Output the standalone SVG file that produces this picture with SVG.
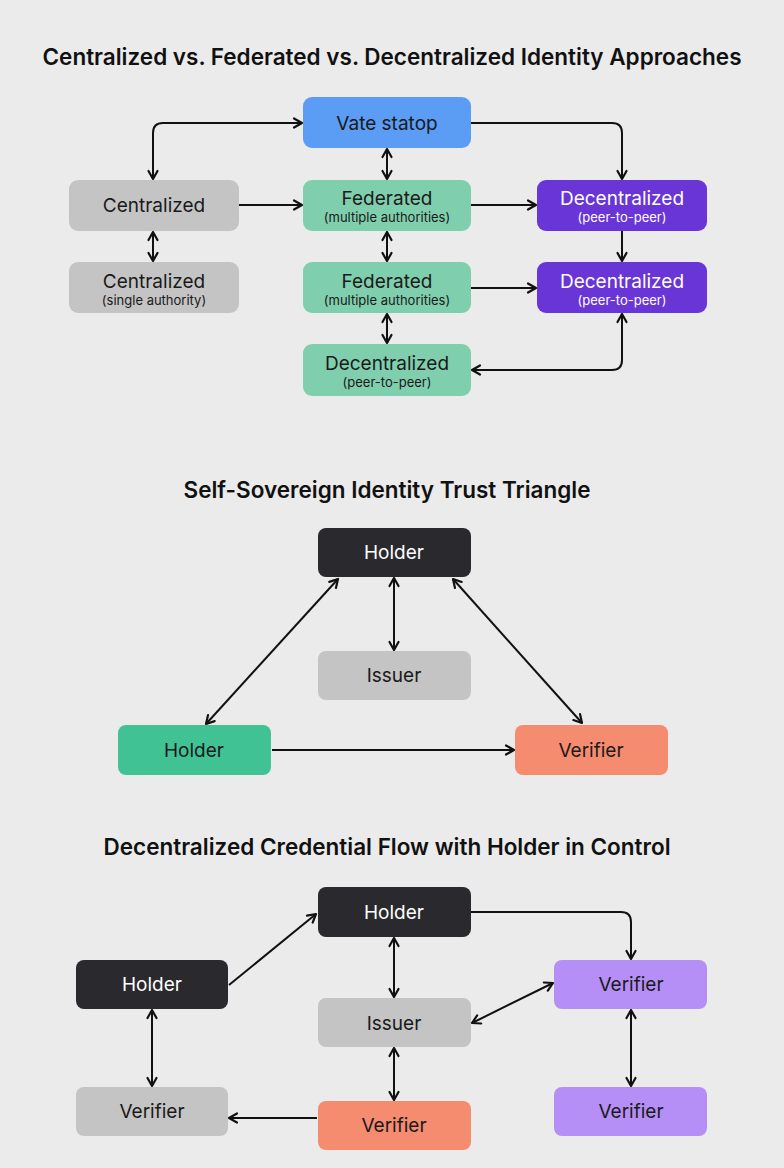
<svg xmlns="http://www.w3.org/2000/svg" width="784" height="1168" viewBox="0 0 784 1168">
<defs>
<marker id="ah" viewBox="0 0 12 12" refX="10" refY="6" markerWidth="12" markerHeight="12" markerUnits="userSpaceOnUse" orient="auto-start-reverse">
<path d="M2,1.5 L10,6 L2,10.5" fill="none" stroke="#111" stroke-width="2.2" stroke-linecap="round" stroke-linejoin="round"/>
</marker>
<style>
.title{font-family:Inter,"Liberation Sans",sans-serif;font-size:22.5px;font-weight:600;fill:#111;text-anchor:middle}
.t{font-family:Inter,"Liberation Sans",sans-serif;font-size:19px;fill:#1a1a1a;text-anchor:middle}
.s{font-family:Inter,"Liberation Sans",sans-serif;font-size:13px;fill:#1a1a1a;text-anchor:middle}
.w{fill:#ffffff}
.c line,.c path{fill:none;stroke:#111;stroke-width:2}
.gray{fill:#c4c4c4}
.blue{fill:#5b9cf4}
.green{fill:#7fcfae}
.purple{fill:#6a35d6}
.dark{fill:#2a292d}
.teal{fill:#40c295}
.orange{fill:#f58b6f}
.lpurple{fill:#b58ff5}
</style>
</defs>
<rect width="784" height="1168" fill="#ebebeb"/>

<text class="title" x="392" y="65">Centralized vs. Federated vs. Decentralized Identity Approaches</text>
<text class="title" x="387" y="498">Self-Sovereign Identity Trust Triangle</text>
<text class="title" x="387" y="855">Decentralized Credential Flow with Holder in Control</text>

<g class="c">
<!-- section 1 -->
<path d="M153,179 V133 Q153,123 163,123 H302" marker-start="url(#ah)" marker-end="url(#ah)"/>
<path d="M471,123 H612 Q622,123 622,133 V179" marker-end="url(#ah)"/>
<line x1="387" y1="149" x2="387" y2="179" marker-start="url(#ah)" marker-end="url(#ah)"/>
<line x1="239" y1="205" x2="302" y2="205" marker-end="url(#ah)"/>
<line x1="471" y1="205" x2="536" y2="205" marker-end="url(#ah)"/>
<line x1="153" y1="232" x2="153" y2="261" marker-start="url(#ah)" marker-end="url(#ah)"/>
<line x1="387" y1="232" x2="387" y2="261" marker-start="url(#ah)" marker-end="url(#ah)"/>
<line x1="622" y1="231" x2="622" y2="261" marker-end="url(#ah)"/>
<line x1="471" y1="288" x2="536" y2="288" marker-end="url(#ah)"/>
<line x1="387" y1="314" x2="387" y2="343" marker-start="url(#ah)" marker-end="url(#ah)"/>
<path d="M622,314 V360 Q622,370 612,370 H472" marker-start="url(#ah)" marker-end="url(#ah)"/>
<!-- section 2 -->
<line x1="394" y1="578" x2="394" y2="650" marker-start="url(#ah)" marker-end="url(#ah)"/>
<line x1="338" y1="579" x2="206" y2="724" marker-start="url(#ah)" marker-end="url(#ah)"/>
<line x1="453" y1="579" x2="582" y2="723" marker-start="url(#ah)" marker-end="url(#ah)"/>
<line x1="272" y1="750" x2="514" y2="750" marker-end="url(#ah)"/>
<!-- section 3 -->
<line x1="229" y1="985" x2="316" y2="914" marker-end="url(#ah)"/>
<path d="M471,912 H621 Q631,912 631,922 V959" marker-end="url(#ah)"/>
<line x1="394" y1="938" x2="394" y2="997" marker-start="url(#ah)" marker-end="url(#ah)"/>
<line x1="472" y1="1023" x2="553" y2="983" marker-start="url(#ah)" marker-end="url(#ah)"/>
<line x1="152" y1="1010" x2="152" y2="1086" marker-start="url(#ah)" marker-end="url(#ah)"/>
<line x1="394" y1="1048" x2="394" y2="1100" marker-start="url(#ah)" marker-end="url(#ah)"/>
<line x1="317" y1="1118" x2="229" y2="1118" marker-end="url(#ah)"/>
<line x1="631" y1="1010" x2="631" y2="1086" marker-start="url(#ah)" marker-end="url(#ah)"/>
</g>

<!-- section 1 nodes -->
<g id="vate"><rect class="blue" x="303" y="97" width="168" height="51" rx="9"/><text class="t" x="387" y="130">Vate statop</text></g>
<g id="centralized1"><rect class="gray" x="69" y="180" width="170" height="51" rx="9"/><text class="t" x="154" y="212">Centralized</text></g>
<g id="federated1"><rect class="green" x="303" y="180" width="168" height="51" rx="9"/><text class="t" x="387" y="205">Federated</text><text class="s" x="387" y="222">(multiple authorities)</text></g>
<g id="decentralized1"><rect class="purple" x="537" y="180" width="170" height="51" rx="9"/><text class="t w" x="622" y="205">Decentralized</text><text class="s w" x="622" y="222">(peer-to-peer)</text></g>
<g id="centralized2"><rect class="gray" x="69" y="262" width="170" height="51" rx="9"/><text class="t" x="154" y="288">Centralized</text><text class="s" x="154" y="305">(single authority)</text></g>
<g id="federated2"><rect class="green" x="303" y="262" width="168" height="51" rx="9"/><text class="t" x="387" y="288">Federated</text><text class="s" x="387" y="305">(multiple authorities)</text></g>
<g id="decentralized2"><rect class="purple" x="537" y="262" width="170" height="51" rx="9"/><text class="t w" x="622" y="288">Decentralized</text><text class="s w" x="622" y="305">(peer-to-peer)</text></g>
<g id="decentralized3"><rect class="green" x="303" y="344" width="168" height="52" rx="9"/><text class="t" x="387" y="370">Decentralized</text><text class="s" x="387" y="387">(peer-to-peer)</text></g>

<!-- section 2 nodes -->
<g id="holder-top"><rect class="dark" x="318" y="528" width="153" height="49" rx="8"/><text class="t w" x="394" y="559">Holder</text></g>
<g id="issuer-2"><rect class="gray" x="318" y="651" width="153" height="49" rx="8"/><text class="t" x="394" y="682">Issuer</text></g>
<g id="holder-green"><rect class="teal" x="118" y="725" width="153" height="50" rx="8"/><text class="t" x="194" y="757">Holder</text></g>
<g id="verifier-2"><rect class="orange" x="515" y="725" width="153" height="50" rx="8"/><text class="t" x="591" y="757">Verifier</text></g>

<!-- section 3 nodes -->
<g id="holder-3top"><rect class="dark" x="318" y="887" width="153" height="50" rx="8"/><text class="t w" x="394" y="919">Holder</text></g>
<g id="holder-3left"><rect class="dark" x="76" y="960" width="152" height="49" rx="8"/><text class="t w" x="152" y="991">Holder</text></g>
<g id="issuer-3"><rect class="gray" x="318" y="998" width="153" height="49" rx="8"/><text class="t" x="394" y="1030">Issuer</text></g>
<g id="verifier-3p1"><rect class="lpurple" x="554" y="960" width="153" height="49" rx="8"/><text class="t" x="631" y="991">Verifier</text></g>
<g id="verifier-3gray"><rect class="gray" x="76" y="1087" width="152" height="49" rx="8"/><text class="t" x="152" y="1118">Verifier</text></g>
<g id="verifier-3orange"><rect class="orange" x="318" y="1101" width="153" height="49" rx="8"/><text class="t" x="394" y="1132">Verifier</text></g>
<g id="verifier-3p2"><rect class="lpurple" x="554" y="1087" width="153" height="49" rx="8"/><text class="t" x="631" y="1118">Verifier</text></g>
</svg>
